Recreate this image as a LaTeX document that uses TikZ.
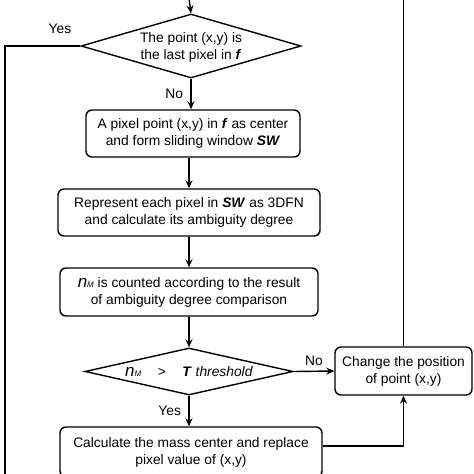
\documentclass[tikz,border=0pt]{standalone}
\usepackage{fontspec}
\setmainfont{Liberation Sans}
\usetikzlibrary{shapes.geometric,arrows.meta}
\begin{document}
\begin{tikzpicture}[x=1pt,y=-1pt,
  every node/.style={font=\fontsize{13.8}{17}\selectfont},
  procbox/.style={draw, line width=1.4pt, rounded corners=6pt, align=center, inner sep=0pt},
  decbox/.style={draw, diamond, line width=1.4pt, inner sep=0pt},
  lbl/.style={font=\fontsize{13.8}{17}\selectfont},
  flow/.style={line width=1.4pt, -{Stealth[length=8pt,width=7pt]}},
  link/.style={line width=1.4pt}]
\useasboundingbox (0,0) rectangle (474,474);
\clip (0,0) rectangle (474,474);
% decision 1
\node[decbox, minimum width=220pt, minimum height=64pt] (d1) at (191,46) {};
\node[align=center] (d1t) at (191,47) {The point (x,y) is\\the last pixel in \textbf{\textit{f}}};
\coordinate (top) at (189,-2);
\draw[flow] (top) -- (d1.north);
% box 1
\node[procbox, minimum width=214pt, minimum height=47pt] (b1) at (193,133.5) {A pixel point (x,y) in \textbf{\textit{f}} as center\\and form sliding window \textbf{\textit{SW}}};
\draw[flow] (d1.south) -- node[lbl, left, xshift=-4pt] {No} (d1.south |- b1.north);
% box 2
\node[procbox, minimum width=262pt, minimum height=47pt] (b2) at (189,212.5) {Represent each pixel in \textbf{\textit{SW}} as 3DFN\\and calculate its ambiguity degree};
\draw[flow] (b1.south -| b2.north) -- (b2.north);
% box 3
\node[procbox, minimum width=258pt, minimum height=48pt] (b3) at (189,292) {\textit{\fontsize{17}{17}\selectfont n}\textit{\fontsize{8}{8}\selectfont M} is counted according to the result\\of ambiguity degree comparison};
\draw[flow] (b2.south) -- (b3.north);
% decision 2
\node[decbox, minimum width=208pt, minimum height=47pt] (d2) at (189,371.5) {};
\node (d2t) at (189,372) {\textit{\fontsize{17}{17}\selectfont n}\textit{\fontsize{8}{8}\selectfont M}\hspace{1.2em}>\hspace{1.2em}\textbf{\textit{T}} \textit{threshold}};
\draw[flow] (b3.south) -- (d2.north);
% right box
\node[procbox, minimum width=137pt, minimum height=48pt] (rb) at (403.5,371) {Change the position\\of point (x,y)};
\draw[flow] (d2.east) -- node[lbl, above, yshift=2pt] {No} (rb.west);
% bottom box
\node[procbox, minimum width=262pt, minimum height=50pt] (bb) at (191,452) {Calculate the mass center and replace\\pixel value of (x,y)};
\draw[flow] (d2.south) -- node[lbl, left, xshift=-4pt] {Yes} (d2.south |- bb.north);
% bottom box to right box
\coordinate (bbout) at (bb.east |- 0,446);
\draw[flow] (bbout) -| (rb.south);
% right box up
\coordinate (rtop) at (rb.north |- 0,-2);
\draw[link] (rb.north) -- (rtop);
% Yes loop left
\coordinate (lcorner) at (5,46);
\coordinate (lbottom) at (5,480);
\draw[link] (d1.west) -- (lcorner) -- (lbottom);
\node[lbl] (yes1) at (60,29) {Yes};
\end{tikzpicture}
\end{document}
